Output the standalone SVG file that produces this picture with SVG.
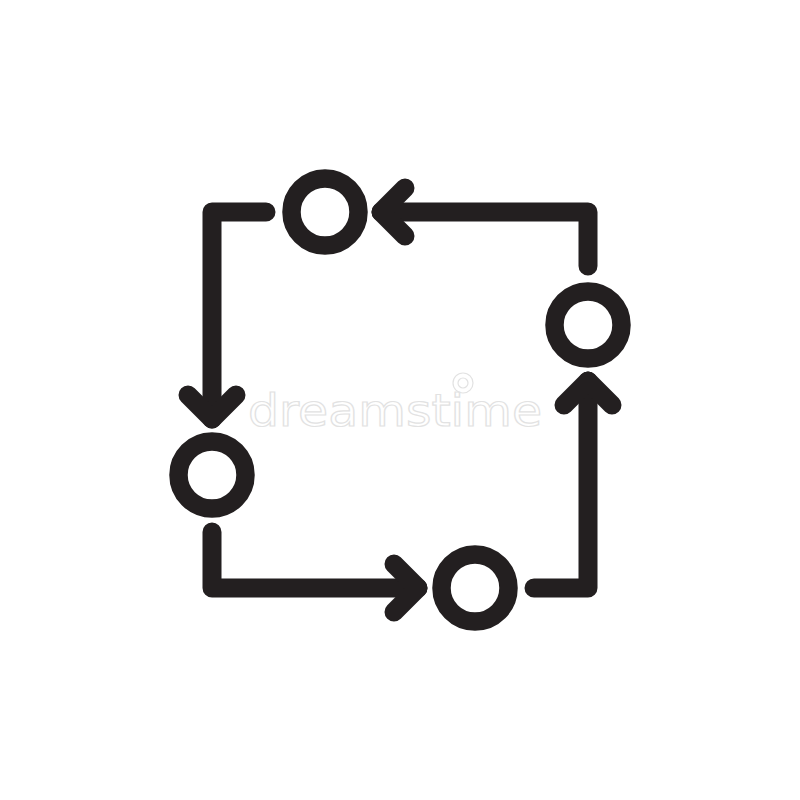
<svg xmlns="http://www.w3.org/2000/svg" width="800" height="800" viewBox="0 0 800 800">
<style>
.ring{fill:none;stroke:#231f20;stroke-width:18.5}
.con{fill:none;stroke:#231f20;stroke-width:19;stroke-linecap:round;stroke-linejoin:round}
.wm{font-family:"DejaVu Sans","Liberation Sans",sans-serif;font-size:44px;fill:#ffffff;stroke:#e2e2e2;stroke-width:1.2}
</style>
<defs>
<marker id="chev" markerUnits="userSpaceOnUse" viewBox="-40 -40 60 80" markerWidth="60" markerHeight="80" refX="0" refY="0" orient="auto">
<path d="M-24,-24 L0,0 L-24,24" fill="none" stroke="#231f20" stroke-width="19" stroke-linecap="round" stroke-linejoin="round"/>
</marker>
</defs>
<rect width="800" height="800" fill="#ffffff"/>
<g id="watermark">
<text class="wm" x="248" y="426" textLength="294" lengthAdjust="spacingAndGlyphs">dreamstime</text>
<circle cx="463" cy="383" r="10" fill="none" stroke="#e2e2e2" stroke-width="1.2"/>
<circle cx="463" cy="383" r="5" fill="none" stroke="#e2e2e2" stroke-width="1.2"/>
</g>
<g id="connectors">
<path class="con" d="M266,212 H212 V419" marker-end="url(#chev)"/>
<path class="con" d="M212,532 V588 H418" marker-end="url(#chev)"/>
<path class="con" d="M534,588 H588 V381" marker-end="url(#chev)"/>
<path class="con" d="M588,266 V212 H381" marker-end="url(#chev)"/>
</g>
<g id="node-top"><circle class="ring" cx="325" cy="212" r="33.5"/></g>
<g id="node-right"><circle class="ring" cx="588" cy="325" r="33.5"/></g>
<g id="node-bottom"><circle class="ring" cx="475" cy="588" r="33.5"/></g>
<g id="node-left"><circle class="ring" cx="212" cy="475" r="33.5"/></g>
</svg>
